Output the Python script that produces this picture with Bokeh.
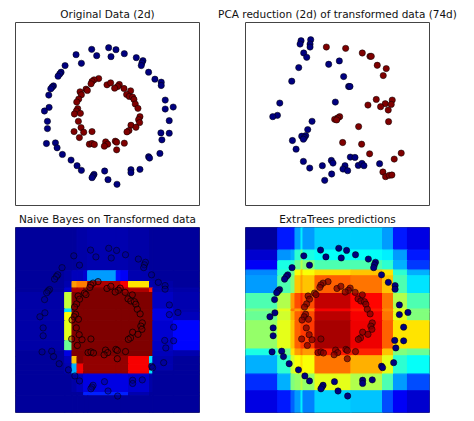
from bokeh.embed import file_html
from bokeh.resources import INLINE
from bokeh.layouts import column, row
from bokeh.models import ColumnDataSource, Range1d
from bokeh.plotting import figure
from bokeh.transform import linear_cmap

TITLES = ["Original Data (2d)", "PCA reduction (2d) of transformed data (74d)",
          "Naive Bayes on Transformed data", "ExtraTrees predictions"]

outer_x = [182,229,244,280,302,287,327,363,383,380,378,198,149,137,133,128,400,419,438,438,114,110,106,100,450,474,450,101,87,96,462,96,437,462,440,93,120,125,434,141,400,403,167,185,198,374,347,347,268,236,233,230,278,305]
outer_y = [455,471,452,476,470,449,458,446,437,430,422,429,422,402,397,390,402,381,372,362,361,357,352,333,318,297,291,296,285,254,256,232,219,218,198,187,189,174,157,154,147,143,137,120,106,109,108,99,104,94,89,84,78,64]
inner_x = [250,236,230,227,275,286,312,307,298,326,346,212,216,194,198,334,342,352,356,190,184,360,368,187,183,177,195,374,370,189,373,347,362,197,341,335,176,205,230,192,222,230,237,271,277,267,300,304,327,304]
inner_y = [383,379,374,367,364,370,365,359,354,353,346,351,347,343,334,335,329,327,320,321,312,306,293,292,285,276,278,268,259,254,250,242,236,235,226,222,223,221,223,205,185,187,184,192,185,179,194,191,188,168]

pca_outer_x = [167,164,196,194,194,175,184,160,250,282,295,310,314,139,103,270,96,82,200,187,181,169,177,174,141,152,174,193,231,258,263,315,329,299,293,307,339,350,356,403,259,238]
pca_outer_y = [497,487,500,487,478,460,447,416,426,436,389,359,359,375,309,312,272,268,254,229,211,209,205,200,196,170,133,113,120,136,128,146,145,120,110,105,121,127,120,126,95,76]
pca_inner_x = [243,301,351,374,378,396,423,414,393,441,368,420,438,406,429,283,277,268,274,430,340,292,349,373,468,447,413,421,432,440]
pca_inner_y = [478,474,460,450,450,423,413,392,320,318,303,307,305,298,288,268,264,260,258,253,238,190,185,156,158,140,101,87,91,92]

nb_x_edges = [0,148,170,185,205,217,303,317,340,403,413,475,553]
nb_y_edges = [555,425,393,373,360,310,300,275,215,185,168,145,125,115,60,50,0]
nb_values = [
    [.03,.03,.03,.04,.04,.05,.05,.05,.04,.03,.03,.03],
    [.03,.04,.06,.06,.08,.28,.14,.12,.05,.04,.03,.03],
    [.03,.05,.72,.75,.75,.95,.95,.88,.65,.05,.04,.03],
    [.03,.08,.95,.95,1,1,1,.95,.95,.85,.05,.04],
    [.04,.57,1,1,1,1,1,1,1,1,.07,.05],
    [.04,.35,1,1,1,1,1,1,1,1,.10,.05],
    [.04,.62,1,1,1,1,1,1,1,1,.10,.06],
    [.04,.60,1,1,1,1,1,1,1,1,.08,.13],
    [.04,.48,1,1,1,1,1,1,1,1,.07,.13],
    [.03,.10,1,1,1,1,1,1,1,1,.06,.05],
    [.03,.06,.68,1,.98,.98,.98,.98,.88,.35,.05,.03],
    [.03,.05,.30,.88,.98,.98,.98,.98,.88,.05,.05,.03],
    [.03,.05,.30,.88,.98,.98,.98,.98,.88,.35,.03,.03],
    [.03,.03,.04,.06,.10,.10,.10,.10,.08,.04,.03,.03],
    [.03,.03,.03,.03,.16,.16,.16,.16,.05,.03,.03,.03],
    [.03,.03,.03,.03,.03,.03,.03,.03,.03,.03,.03,.03],
]

et_x_edges = [0,97,137,149,167,173,209,317,412,445,487,553]
et_y_edges = [555,487,455,427,410,357,310,302,275,190,170,115,65,0]
et_values = [
    [.03,.15,.15,.28,.36,.28,.33,.33,.28,.15,.10],
    [.08,.27,.30,.42,.48,.40,.38,.38,.36,.28,.15],
    [.12,.40,.42,.48,.55,.50,.45,.45,.42,.30,.18],
    [.26,.42,.48,.62,.68,.62,.66,.68,.65,.42,.30],
    [.28,.45,.50,.68,.72,.68,.78,.76,.68,.45,.35],
    [.45,.55,.72,.80,.84,.80,.93,.87,.76,.55,.45],
    [.50,.60,.76,.72,.76,.74,.88,.85,.74,.60,.50],
    [.48,.58,.70,.78,.82,.80,.94,.88,.76,.60,.50],
    [.52,.60,.68,.78,.82,.82,.96,.89,.78,.65,.65],
    [.40,.48,.65,.72,.76,.72,.85,.84,.68,.50,.48],
    [.30,.42,.58,.62,.66,.62,.76,.70,.60,.42,.38],
    [.17,.30,.50,.52,.56,.52,.60,.55,.45,.28,.20],
    [.10,.15,.22,.28,.36,.25,.33,.32,.20,.12,.08],
]

BLUE = "#00007f"
RED = "#7f0000"


def jet_colour(t):
    def chan(c):
        return max(0.0, min(1.0, 1.5 - abs(4 * t - c)))
    r, g, b = chan(3), chan(2), chan(1)
    return "#%02x%02x%02x" % (int(r * 255), int(g * 255), int(b * 255))


JET = [jet_colour(i / 255) for i in range(256)]


def panel(title, x_range, y_range, left, right, bottom, frame_h):
    p = figure(frame_width=184, frame_height=frame_h,
               x_range=Range1d(*x_range), y_range=Range1d(*y_range),
               x_axis_type=None, y_axis_type=None,
               output_backend="svg", toolbar_location=None,
               min_border_left=left, min_border_right=right,
               min_border_top=0, min_border_bottom=bottom,
               background_fill_color="white", border_fill_color=None)
    p.title.text = title
    p.title.align = "center"
    p.title.text_font = "DejaVu Sans"
    p.title.text_font_size = "10.5px"
    p.title.text_font_style = "normal"
    p.title.text_color = "#111111"
    p.title.offset = 0
    p.title.standoff = 5
    p.outline_line_color = "#444444"
    p.outline_line_width = 1
    return p


def dots(p, xs, ys, colour, line_width=0.5, **style):
    p.scatter(xs, ys, size=6.3, fill_color=colour, line_color="black", line_width=line_width, **style)


def heat(p, xe, ye, values, x_span, y_span):
    p.extra_x_ranges = {"heat": Range1d(*x_span)}
    p.extra_y_ranges = {"heat": Range1d(*y_span)}
    d = dict(l=[], r=[], t=[], b=[], v=[])
    for i, vals in enumerate(values):
        for j, v in enumerate(vals):
            d["l"].append(xe[j]); d["r"].append(xe[j + 1])
            d["t"].append(ye[i]); d["b"].append(ye[i + 1]); d["v"].append(v)
    cmap = linear_cmap("v", JET, 0, 1)
    p.quad(left="l", right="r", top="t", bottom="b", source=ColumnDataSource(d),
           fill_color=cmap, line_color=cmap, line_width=1.2,
           x_range_name="heat", y_range_name="heat")


TOP = (0, 553)
TOPY = (0, 552)
ZOOMX = (18.5, 534.5)
ZOOMY = (18, 534)

p1 = panel(TITLES[0], TOP, TOPY, 15, 16, 3, 183)
dots(p1, outer_x, outer_y, BLUE)
dots(p1, inner_x, inner_y, RED)

p2 = panel(TITLES[1], TOP, TOPY, 30, 37, 3, 183)
dots(p2, pca_outer_x, pca_outer_y, BLUE)
dots(p2, pca_inner_x, pca_inner_y, RED)

p3 = panel(TITLES[2], ZOOMX, ZOOMY, 15, 16, 1, 185)
heat(p3, nb_x_edges, nb_y_edges, nb_values, (0, 553), (0, 555))
dots(p3, outer_x, outer_y, BLUE, line_width=0.9, fill_alpha=0.4, line_alpha=0.55)
dots(p3, inner_x, inner_y, RED, line_width=0.9, fill_alpha=0.4, line_alpha=0.8)

p4 = panel(TITLES[3], ZOOMX, ZOOMY, 30, 37, 1, 185)
heat(p4, et_x_edges, et_y_edges, et_values, (0, 553), (0, 555))
dots(p4, outer_x, outer_y, BLUE)
dots(p4, inner_x, inner_y, RED, fill_alpha=0.75)

layout = column(row(p1, p2, spacing=0), row(p3, p4, spacing=0), spacing=0, margin=(3, 0, 0, 0))
open("out.html", "w").write(file_html(layout, INLINE))
